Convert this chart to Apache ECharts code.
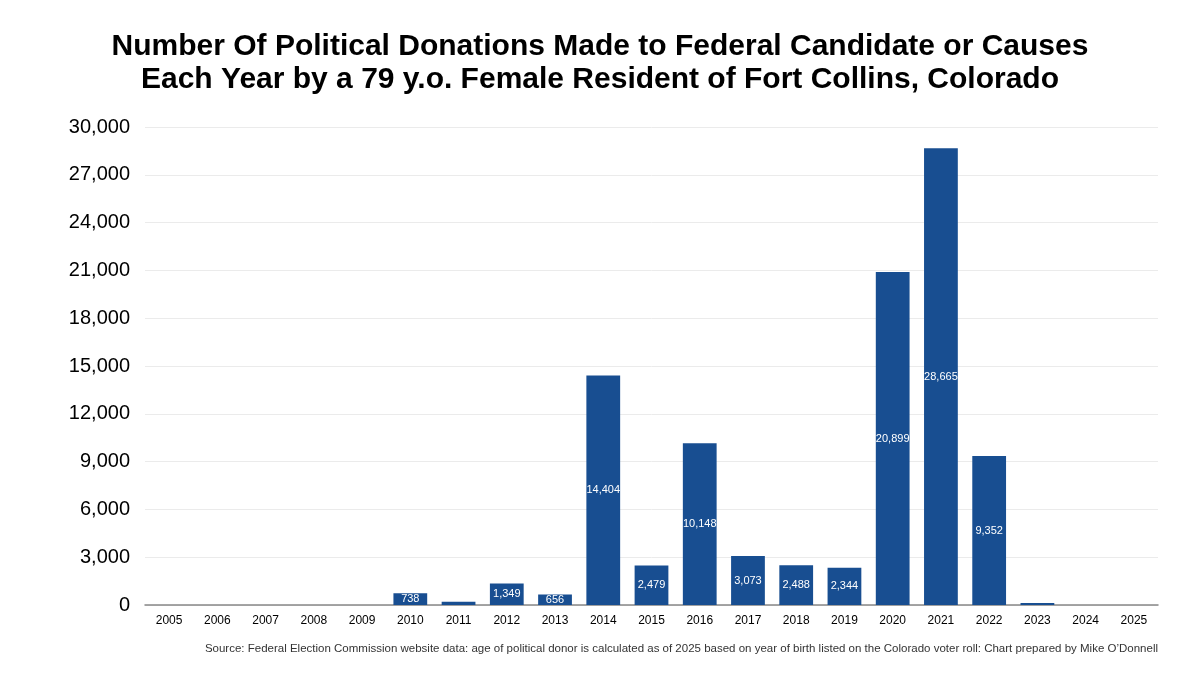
<!DOCTYPE html>
<html>
<head>
<meta charset="utf-8">
<script src="https://cdn.jsdelivr.net/npm/echarts@6/dist/echarts.min.js"></script>
<style>
  html, body { margin: 0; padding: 0; background: #fff; }
  #chart { width: 1200px; height: 674px; }
</style>
</head>
<body>
<div id="chart"></div>
<script>
// years on the x axis
const years = ['2005', '2006', '2007', '2008', '2009', '2010', '2011', '2012', '2013', '2014', '2015',
  '2016', '2017', '2018', '2019', '2020', '2021', '2022', '2023', '2024', '2025'];
// donations per year (2011 and 2023 estimated, no label in source)
const donations = [0, 0, 0, 0, 0, 738, 200, 1349, 656, 14404, 2479,
  10148, 3073, 2488, 2344, 20899, 28665, 9352, 120, 0, 0];

const titleText = 'Number Of Political Donations Made to Federal Candidate or Causes\nEach Year by a 79 y.o. Female Resident of Fort Collins, Colorado';
const sourceText = 'Source: Federal Election Commission website data: age of political donor is calculated as of 2025 based on year of birth listed on the Colorado voter roll: Chart prepared by Mike O\u2019Donnell';

const chart = echarts.init(document.getElementById('chart'));
chart.setOption({
  animation: false,
  textStyle: { fontFamily: '"Liberation Sans", Arial, sans-serif' },
  title: [
    {
      text: titleText,
      left: 'center',
      top: 25,
      textStyle: {
        fontSize: 30,
        fontWeight: 'bold',
        color: '#000',
        lineHeight: 33,
        fontFamily: '"Liberation Sans", Arial, sans-serif',
      },
    },
    {
      text: sourceText,
      right: 37,
      top: 638,
      textStyle: {
        fontSize: 11.5,
        fontWeight: 'normal',
        color: '#333',
        fontFamily: '"Liberation Sans", Arial, sans-serif',
      },
    },
  ],
  grid: {
    left: 145,
    right: 42,
    top: 127,
    bottom: 69,
    containLabel: false,
  },
  xAxis: {
    type: 'category',
    data: years,
    axisTick: { show: false },
    axisLine: { lineStyle: { color: '#888', width: 1.5 } },
    axisLabel: { color: '#000', fontSize: 12, margin: 10 },
  },
  yAxis: {
    type: 'value',
    min: 0,
    max: 30000,
    interval: 3000,
    axisLine: { show: false },
    axisTick: { show: false },
    axisLabel: {
      color: '#000',
      fontSize: 20,
      margin: 15,
      formatter: (v) => v.toLocaleString('en-US'),
    },
    splitLine: { lineStyle: { color: '#ebebeb', width: 1 } },
  },
  series: [
    {
      name: 'Donations',
      type: 'bar',
      data: donations,
      barWidth: '70%',
      itemStyle: { color: '#184e91' },
      label: {
        show: true,
        position: 'inside',
        color: '#fff',
        fontSize: 11,
        formatter: (p) => (p.value >= 500 ? p.value.toLocaleString('en-US') : ''),
      },
    },
  ],
});
</script>
</body>
</html>
